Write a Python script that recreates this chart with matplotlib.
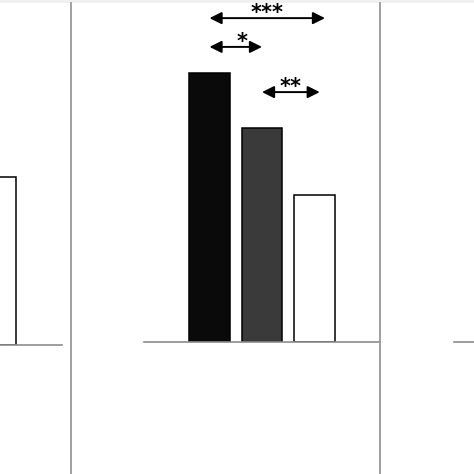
import matplotlib
matplotlib.use("Agg")
import matplotlib.pyplot as plt
from matplotlib.lines import Line2D
from matplotlib.patches import Rectangle

# data (relative values)
groups = ["A", "B", "C"]
center_vals = [1.0, 0.796, 0.546]
center_colors = ["#0a0a0a", "#3a3a3a", "#ffffff"]
left_vals = [0.625]

# significance brackets: (x start, x end, height, label)
sig_x1 = [0.0, 0.0, 1.0]
sig_x2 = [2.2, 1.0, 2.1]
sig_y = [1.204, 1.097, 0.929]
sig_lab = ["***", "*", "**"]
sig_tx = [1.1, 0.62, 1.55]

W = H = 474.0
fig = plt.figure(figsize=(4.74, 4.74), dpi=100)

base_col = "#8c8c8c"


def px_axes(x0, x1, y_base, top=474.0):
    # axes placed in pixel units, baseline measured from the top
    return fig.add_axes([x0 / W, (H - y_base) / H, (x1 - x0) / W, (y_base - (H - top)) / H])


def style(ax):
    for s in ["left", "right", "top"]:
        ax.spines[s].set_visible(False)
    ax.spines["bottom"].set_color(base_col)
    ax.spines["bottom"].set_linewidth(1.2)
    ax.set_xticks([])
    ax.set_yticks([])
    ax.patch.set_alpha(0)


# faint band along the top edge
fig.add_artist(Rectangle((0, 1 - 3 / H), 1, 3 / H, transform=fig.transFigure,
                         color="#f0f0f0", lw=0))

# left panel (only a piece visible)
axl = px_axes(0, 62, 345)
axl.bar([0], left_vals, width=0.78, color="white", edgecolor="black", linewidth=1.1)
axl.set_xlim(0.085, 1.266)
axl.set_ylim(0, 345 / 269)
style(axl)

# center panel
ax = px_axes(144, 380, 342)
ax.bar(range(len(groups)), center_vals, width=0.78, color=center_colors,
       edgecolor="black", linewidth=1.1)
ax.set_xlim(-1.248, 3.248)
ax.set_ylim(0, 342 / 269)
style(ax)

for a, b, y, lab, tx in zip(sig_x1, sig_x2, sig_y, sig_lab, sig_tx):
    ax.annotate("", xy=(a, y), xytext=(b, y),
                arrowprops=dict(arrowstyle="<|-|>", color="black", lw=1.4,
                                mutation_scale=18, shrinkA=0, shrinkB=0))
    ax.text(tx, y - 0.005, lab, ha="center", va="baseline",
            fontsize=15, fontweight="bold")

# right panel (only the baseline visible)
axr = px_axes(454, 474, 342)
style(axr)

# separators
for xp in [71, 380]:
    fig.add_artist(Line2D([xp / W, xp / W], [0, 1 - 3 / H], color="#999999", lw=1.3))

fig.savefig("out.png", dpi=100)
